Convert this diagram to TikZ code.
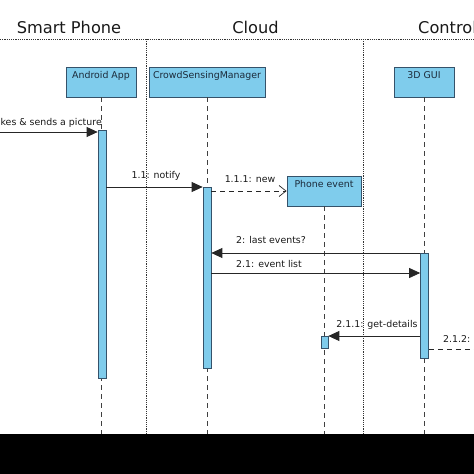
\documentclass[tikz,border=0pt]{standalone}
\usepackage{fontspec}
\setmainfont{DejaVu Sans}
\usetikzlibrary{arrows.meta}
\definecolor{lifeblue}{HTML}{7FCCEC}
\definecolor{edgegrey}{HTML}{35526A}
\definecolor{inkblue}{HTML}{1C2B3A}
\tikzset{
	obj/.style={draw=edgegrey, fill=lifeblue, line width=0.8pt, inner sep=3pt, text height=8pt, text depth=16pt, minimum height=30pt, font=\fontsize{9.4}{10}\selectfont, text=inkblue},
	actbar/.style={draw=edgegrey, fill=lifeblue, line width=0.7pt, inner sep=0pt, minimum width=7pt, anchor=north},
	lifeline/.style={draw=black!75, line width=0.7pt, dash pattern=on 5pt off 4pt},
	border/.style={draw=black!80, line width=0.7pt, dash pattern=on 1.2pt off 1pt},
	call/.style={draw=black!85, line width=0.8pt, -{Triangle[length=11pt, width=10pt]}},
	create/.style={draw=black!85, line width=0.7pt, dash pattern=on 5pt off 4pt, -{Straight Barb[length=7pt, width=11pt]}},
	reply/.style={draw=black!85, line width=0.7pt, dash pattern=on 5pt off 4pt},
	msgtxt/.style={font=\fontsize{9.4}{10}\selectfont, text=black!90, inner sep=0pt, anchor=base},
	zone/.style={font=\fontsize{16.2}{18}\selectfont, text=black!90, inner sep=0pt, anchor=base}
}
\begin{document}
\begin{tikzpicture}[x=1pt, y=-1pt]
	\useasboundingbox (0,0) rectangle (474,474);
	\clip (0,0) rectangle (474,474);

	% Draw zones
	\node[zone] (phoneZone) at (69,33) {Smart Phone};
	\node[zone] (cloudZone) at (255.5,33) {Cloud};
	\node[zone, anchor=base west] (ctrlZone) at (418,33) {Control};
	\coordinate (zoneL) at (0,39);
	\coordinate (zoneR) at (474,39);
	\coordinate (bot) at (0,434);
	\draw[border] (zoneL) -- (zoneR);
	\draw[border] (146,39) -- (146,434);
	\draw[border] (363,39) -- (363,434);

	% Draw objects and lifelines
	\node[obj, minimum width=70pt] (andApp) at (101,82) {Android App};
	\node[obj, minimum width=116pt] (csm) at (207,82) {CrowdSensingManager};
	\node[obj, minimum width=60pt] (gui) at (424,82) {3D GUI};
	\node[obj, minimum width=74pt] (phEvt) at (324,191) {Phone event};
	\draw[lifeline] (andApp.south) -- (andApp.south |- bot);
	\draw[lifeline] (csm.south) -- (csm.south |- bot);
	\draw[lifeline] (gui.south) -- (gui.south |- bot);
	\draw[lifeline] (phEvt.south) -- (phEvt.south |- bot);

	% Draw activations
	\node[actbar, minimum width=8pt, minimum height=248pt] (andAct) at (102,130) {};
	\node[actbar, minimum width=8pt, minimum height=181pt] (csmAct) at (207,187) {};
	\node[actbar, minimum width=8pt, minimum height=105pt] (guiAct) at (424.5,253) {};
	\node[actbar, minimum height=12pt] (phAct) at (324.5,336) {};

	% Draw messages
	\coordinate (user) at (0,132);
	\draw[call] (user) -- (andAct.west |- user);
	\node[msgtxt, anchor=base east] (m1) at (102,125) {takes \& sends a picture};

	\draw[call] (andAct.east |- csmAct.north) -- (csmAct.north west);
	\node[msgtxt] (m11) at (156,178) {1.1: notify};

	\draw[create] (csmAct.east |- phEvt) -- (phEvt.west);
	\node[msgtxt] (m111) at (250,182) {1.1.1: new};

	\draw[call] (guiAct.north west) -- (csmAct.east |- guiAct.north);
	\node[msgtxt] (m2) at (271,243) {2: last events?};

	\coordinate (evtList) at (0,273);
	\draw[call] (csmAct.east |- evtList) -- (guiAct.west |- evtList);
	\node[msgtxt] (m21) at (269,267) {2.1: event list};

	\draw[call] (guiAct.west |- phAct.north) -- (phAct.north east);
	\node[msgtxt] (m211) at (377,327) {2.1.1: get-details};

	\coordinate (offR) at (474,349);
	\draw[reply] (guiAct.east |- offR) -- (offR);
	\node[msgtxt, anchor=base west] (m212) at (443,342) {2.1.2:};

	% Draw bottom band
	\fill[black] (bot) rectangle (474,474);
\end{tikzpicture}
\end{document}
